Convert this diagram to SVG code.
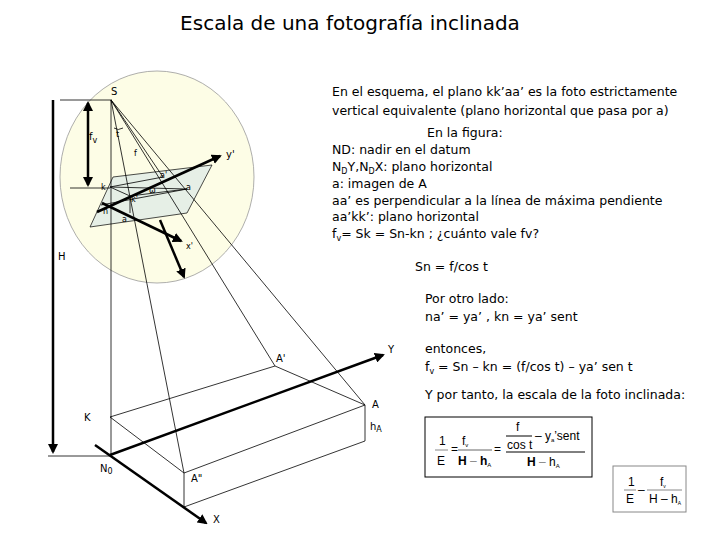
<svg xmlns="http://www.w3.org/2000/svg" width="720" height="540" viewBox="0 0 720 540">
<style>
text{font-family:"DejaVu Sans",sans-serif;fill:#000}
.t{font-size:12.5px}
.s{font-size:8px}
.m{font-size:10px}
.l{stroke:#000;stroke-width:0.8;fill:none}
.k{stroke:#000;stroke-width:2.5;fill:none}
.f{font-family:"Liberation Sans",sans-serif;font-size:12px}
</style>
<defs>
<marker id="ar" viewBox="0 0 10 10" refX="8" refY="5" markerWidth="4" markerHeight="4" orient="auto-start-reverse"><path d="M0,0L10,5L0,10z" fill="#000"/></marker>
</defs>
<rect width="720" height="540" fill="#fff"/>
<text x="350" y="30" text-anchor="middle" style="font-size:20px">Escala de una fotografía inclinada</text>
<g id="circle"><ellipse cx="157" cy="177" rx="97" ry="106" fill="#fdfde6" stroke="#999" stroke-width="0.8"/></g>
<g id="photo-plane"><path d="M113,177L212,165L187,213L90,227z" fill="#e6efe6" stroke="#000" stroke-width="0.7"/></g>
<g id="connectors">
<line class="l" x1="60" y1="100" x2="112" y2="100"/>
<line class="l" x1="70" y1="188" x2="110" y2="188"/>
<line class="k" x1="88" y1="103" x2="88" y2="185" marker-start="url(#ar)" marker-end="url(#ar)"/>
<line class="k" x1="53" y1="100" x2="53" y2="452" marker-end="url(#ar)"/>
<line class="l" x1="48" y1="456" x2="110" y2="456"/>
<line class="l" x1="111" y1="100" x2="111" y2="456"/>
<line class="l" x1="111" y1="100" x2="184" y2="473"/>
<line class="l" x1="111" y1="100" x2="275" y2="366"/>
<line class="l" x1="111" y1="100" x2="365" y2="405"/>
<line class="l" x1="111" y1="100" x2="163" y2="177"/>
<path class="l" d="M110,187L187,189M110,187L130,196L187,189M101,205L187,189M130,196L130,213M110,187L163,177"/>
<path class="l" d="M114,128Q118,131 123,128"/>
<line class="k" x1="97" y1="212" x2="220" y2="156" stroke-width="2" marker-end="url(#ar)"/>
<line class="k" x1="102" y1="203" x2="181" y2="241" stroke-width="2" marker-end="url(#ar)"/>
<line class="k" x1="160" y1="220" x2="184" y2="277" stroke-width="2" marker-end="url(#ar)"/>
<path class="l" d="M110,417L275,366L365,405L184,473z"/>
<path class="l" d="M365,405L365,441L184,507L184,473"/>
<line class="k" x1="110" y1="455" x2="383" y2="355" stroke-width="2" marker-end="url(#ar)"/>
<line class="k" x1="95" y1="445" x2="206" y2="523" stroke-width="2" marker-end="url(#ar)"/>
</g>
<g id="labels">
<text class="m" x="111" y="95">S</text>
<text class="m" x="89" y="140">f<tspan class="s" dy="3">v</tspan></text>
<text class="s" x="116" y="137">t</text>
<text class="s" x="134" y="156">f</text>
<text class="m" x="226" y="158">y'</text>
<text class="s" x="101" y="190">k</text>
<text class="s" x="160" y="178">a'</text>
<text class="s" x="186" y="190">a</text>
<text class="s" x="149" y="193">ω</text>
<text class="s" x="131" y="202">k'</text>
<text class="s" x="103" y="214">n</text>
<text class="s" x="122" y="222">a</text>
<text class="s" x="186" y="249">x'</text>
<text class="m" x="58" y="260">H</text>
<text class="m" x="276" y="362">A'</text>
<text class="m" x="388" y="353">Y</text>
<text class="m" x="372" y="408">A</text>
<text class="m" x="370" y="430">h<tspan class="s" dy="2">A</tspan></text>
<text class="m" x="84" y="421">K</text>
<text class="m" x="100" y="472">N<tspan class="s" dy="2">0</tspan></text>
<text class="m" x="191" y="482">A"</text>
<text class="m" x="213" y="523">X</text>
</g>
<g id="texts">
<text class="t" x="332" y="96">En el esquema, el plano kk’aa’ es la foto estrictamente</text>
<text class="t" x="332" y="115">vertical equivalente (plano horizontal que pasa por a)</text>
<text class="t" x="427" y="137">En la figura:</text>
<text class="t" x="332" y="154">ND: nadir en el datum</text>
<text class="t" x="332" y="171">N<tspan class="s" dy="3">D</tspan><tspan dy="-3">Y,N</tspan><tspan class="s" dy="3">D</tspan><tspan dy="-3">X: plano horizontal</tspan></text>
<text class="t" x="332" y="188">a: imagen de A</text>
<text class="t" x="332" y="205">aa’ es perpendicular a la línea de máxima pendiente</text>
<text class="t" x="332" y="221">aa’kk’: plano horizontal</text>
<text class="t" x="332" y="238">f<tspan class="s" dy="3">v</tspan><tspan dy="-3">= Sk = Sn-kn ; ¿cuánto vale fv?</tspan></text>
<text class="t" x="415" y="271">Sn = f/cos t</text>
<text class="t" x="425" y="303">Por otro lado:</text>
<text class="t" x="425" y="321">na’ = ya’ , kn = ya’ sent</text>
<text class="t" x="425" y="353">entonces,</text>
<text class="t" x="425" y="371">f<tspan class="s" dy="3">v</tspan><tspan dy="-3"> = Sn – kn = (f/cos t) – ya’ sen t</tspan></text>
<text class="t" x="425" y="399">Y por tanto, la escala de la foto inclinada:</text>
</g>
<g id="formula1">
<rect x="425" y="417" width="167" height="60" fill="#fff" stroke="#000" stroke-width="1"/>
<text class="f" x="439" y="445" fill="#888">1</text><line x1="435" y1="450" x2="448" y2="450" stroke="#888"/><text class="f" x="437" y="465">E</text>
<text class="f" x="451" y="453" fill="#888">=</text>
<text class="f" x="462" y="445" font-size="10" fill="#666">f<tspan font-size="6" dy="2">v</tspan></text><line x1="458" y1="450" x2="492" y2="450" stroke="#666"/><text class="f" x="458" y="465"><tspan font-weight="bold">H</tspan><tspan fill="#888"> – </tspan><tspan font-weight="bold">h</tspan><tspan font-size="6" dy="2">A</tspan></text>
<text class="f" x="494" y="453" fill="#888">=</text>
<text class="f" x="516" y="431">f</text><line x1="506" y1="436" x2="532" y2="436" stroke="#000"/><text class="f" x="507" y="449">cos t</text>
<text class="f" x="535" y="440" font-size="11">– y<tspan font-size="6" dy="2">a</tspan><tspan dy="-2">’sent</tspan></text>
<line x1="506" y1="452" x2="585" y2="452" stroke="#000"/>
<text class="f" x="527" y="466"><tspan font-weight="bold">H</tspan><tspan fill="#888"> – </tspan>h<tspan font-size="6" dy="2">A</tspan></text>
</g>
<g id="formula2">
<rect x="613" y="466" width="73" height="46" fill="#fff" stroke="#888" stroke-width="1"/>
<text class="f" x="628" y="486" font-size="10" fill="#888">1</text><line x1="624" y1="490" x2="636" y2="490" stroke="#888"/><text class="f" x="626" y="503" font-size="10" fill="#888">E</text>
<text class="f" x="638" y="494" font-size="10" fill="#aaa">–</text>
<text class="f" x="660" y="486" font-size="9" fill="#888">f<tspan font-size="5" dy="2">v</tspan></text><line x1="647" y1="490" x2="682" y2="490" stroke="#888"/><text class="f" x="649" y="503" font-size="10" fill="#888">H – h<tspan font-size="5" dy="2">A</tspan></text>
</g>
</svg>
